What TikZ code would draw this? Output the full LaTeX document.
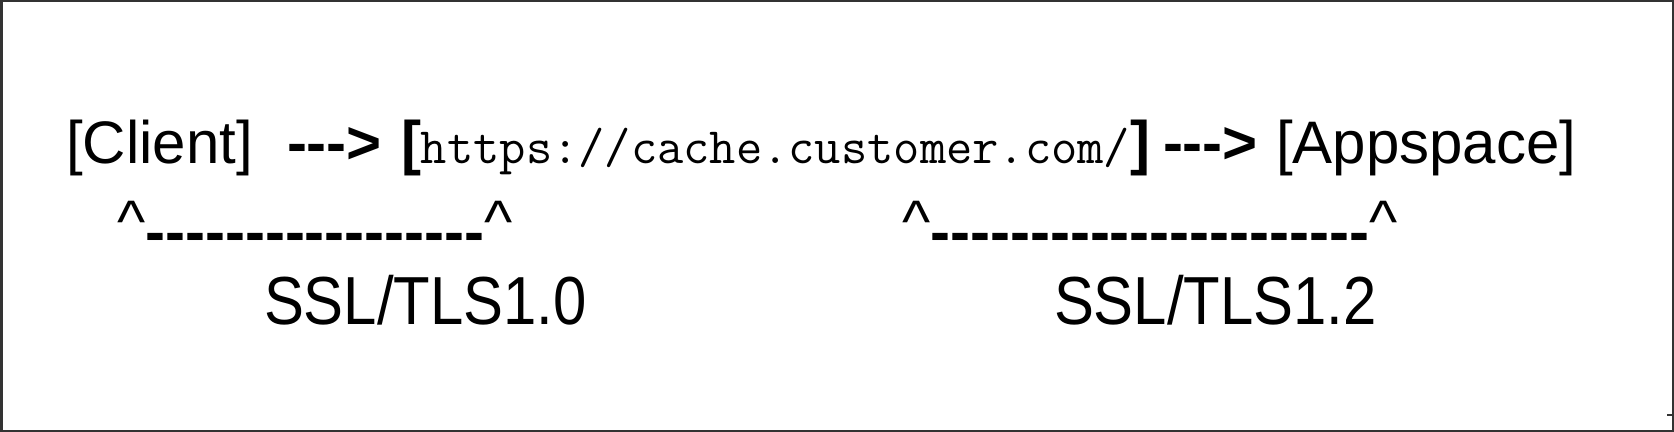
\documentclass[tikz,border=0pt]{standalone}
\usepackage{fontspec}
\setmainfont{Liberation Sans}[Ligatures=TeXOff]
\definecolor{c333333}{RGB}{51,51,51}
\def \globalscale {1.000000}
\begin{document}
\begin{tikzpicture}[y=-0.5pt, x=0.5pt, yscale=\globalscale,xscale=\globalscale, every node/.append style={scale=\globalscale}, inner sep=0pt, outer sep=0pt]
  \path[use as bounding box] (0, 0) rectangle (1674, 432);



  \path[draw=c333333,line cap=butt,line join=miter,line width=1.25pt] (1.25, 
  1.25) rectangle (1672.75, 430.75);



  \path[draw=c333333,line cap=butt,line width=1pt] (1667, 415) -- (1672, 415);



  \node[anchor=base west,font=\fontsize{30}{36}\selectfont] (textclient) at 
  (66, 164){[Client]};



  \node[anchor=base west,font=\fontsize{30}{36}\selectfont\bfseries] 
  (textarrowa) at (287, 164){--->};



  \node[anchor=base west,font=\fontsize{30}{36}\selectfont] (texturl) at (401, 
  164){{\bfseries[}{\ttfamily\fontsize{25.5}{30}\selectfont 
  https://cache.customer.com/}{\bfseries]}};



  \node[anchor=base west,font=\fontsize{30}{36}\selectfont\bfseries] 
  (textarrowb) at (1163, 164){--->};



  \node[anchor=base west,font=\fontsize{30}{36}\selectfont] (textappspace) at 
  (1276, 164){[Appspace]};



  \node[anchor=base west,font=\fontsize{30}{36}\selectfont] (textspana) at 
  (117, 243){\textasciicircum\raisebox{-5pt}{\bfseries -----------------}\textasciicircum};



  \node[anchor=base west,font=\fontsize{30}{36}\selectfont] (textspanb) at 
  (902, 243){\textasciicircum\raisebox{-5pt}{\bfseries ----------------------}\textasciicircum};



  \node[anchor=base west,xscale=0.88,font=\fontsize{34}{40}\selectfont] 
  (texttlsa) at (264, 325){SSL/TLS1.0};



  \node[anchor=base west,xscale=0.88,font=\fontsize{34}{40}\selectfont] 
  (texttlsb) at (1054, 325){SSL/TLS1.2};




\end{tikzpicture}
\end{document}
